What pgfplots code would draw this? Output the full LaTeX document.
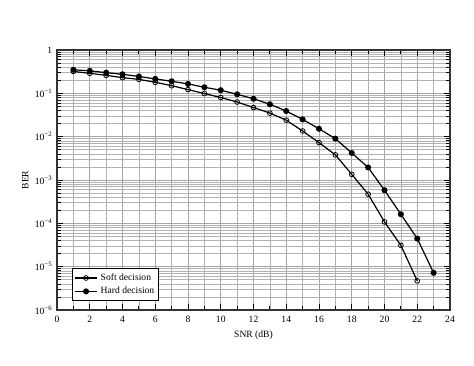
\documentclass[border=0pt]{standalone}
\usepackage{pgfplots}
\pgfplotsset{compat=1.18}
\usepackage{fontspec}
\setmainfont{Liberation Serif}
\begin{document}
\begin{tikzpicture}
\begin{axis}[
  name=ax,
  scale only axis,
  width=294.75pt, height=195pt,
  ymode=log,
  xmin=0, xmax=24, ymin=1e-6, ymax=1,
  xtick={0,2,...,24},
  minor x tick num=1,
  ytick={1e-6,1e-5,1e-4,1e-3,1e-2,1e-1,1},
  yticklabels={10\textsuperscript{−6},10\textsuperscript{−5},10\textsuperscript{−4},10\textsuperscript{−3},10\textsuperscript{−2},10\textsuperscript{−1},1},
  /pgf/number format/assume math mode=true,
  xticklabel style={font=\fontsize{7.2}{8}\selectfont, yshift=-1pt},
  yticklabel style={font=\fontsize{7.2}{8}\selectfont},
  grid=both,
  major grid style={gray!70, line width=0.5pt},
  minor grid style={gray!60, line width=0.4pt},
  axis line style={black!80, line width=0.8pt},
  tick style={black, line width=0.6pt},
  tick align=inside,
  xlabel={SNR (dB)}, ylabel={BER},
  label style={font=\fontsize{7.2}{8}\selectfont},
  xlabel style={yshift=1pt},
  ylabel style={yshift=-2pt},
  legend style={at={(0.037,0.035)}, anchor=south west, font=\fontsize{7.2}{8}\selectfont, draw=black, line width=0.8pt, inner sep=1.5pt, row sep=-0.5pt},
  legend cell align=left,
]
\addplot[black, line width=0.9pt, mark=o, mark size=1.8pt, mark options={fill=white, line width=0.6pt}] coordinates {
(1,0.32) (2,0.29) (3,0.26) (4,0.23) (5,0.21) (6,0.18) (7,0.15) (8,0.122) (9,0.099) (10,0.080)
(11,0.063) (12,0.047) (13,0.035) (14,0.024) (15,0.0135) (16,0.0073) (17,0.0038) (18,0.00135)
(19,0.00047) (20,0.000108) (21,0.000031) (22,4.7e-6)
};
\addlegendentry{Soft decision}
\addplot[black, line width=0.9pt, mark=*, mark size=1.8pt] coordinates {
(1,0.35) (2,0.33) (3,0.30) (4,0.275) (5,0.245) (6,0.215) (7,0.19) (8,0.165) (9,0.138) (10,0.118)
(11,0.095) (12,0.075) (13,0.056) (14,0.039) (15,0.025) (16,0.0152) (17,0.009) (18,0.0042)
(19,0.00195) (20,0.00058) (21,0.000162) (22,0.0000445) (23,7.2e-6)
};
\addlegendentry{Hard decision}
\end{axis}
\path[use as bounding box] ([xshift=-42.75pt,yshift=-42pt]ax.south west) rectangle ([xshift=18pt,yshift=37.5pt]ax.north east);
\end{tikzpicture}
\end{document}
